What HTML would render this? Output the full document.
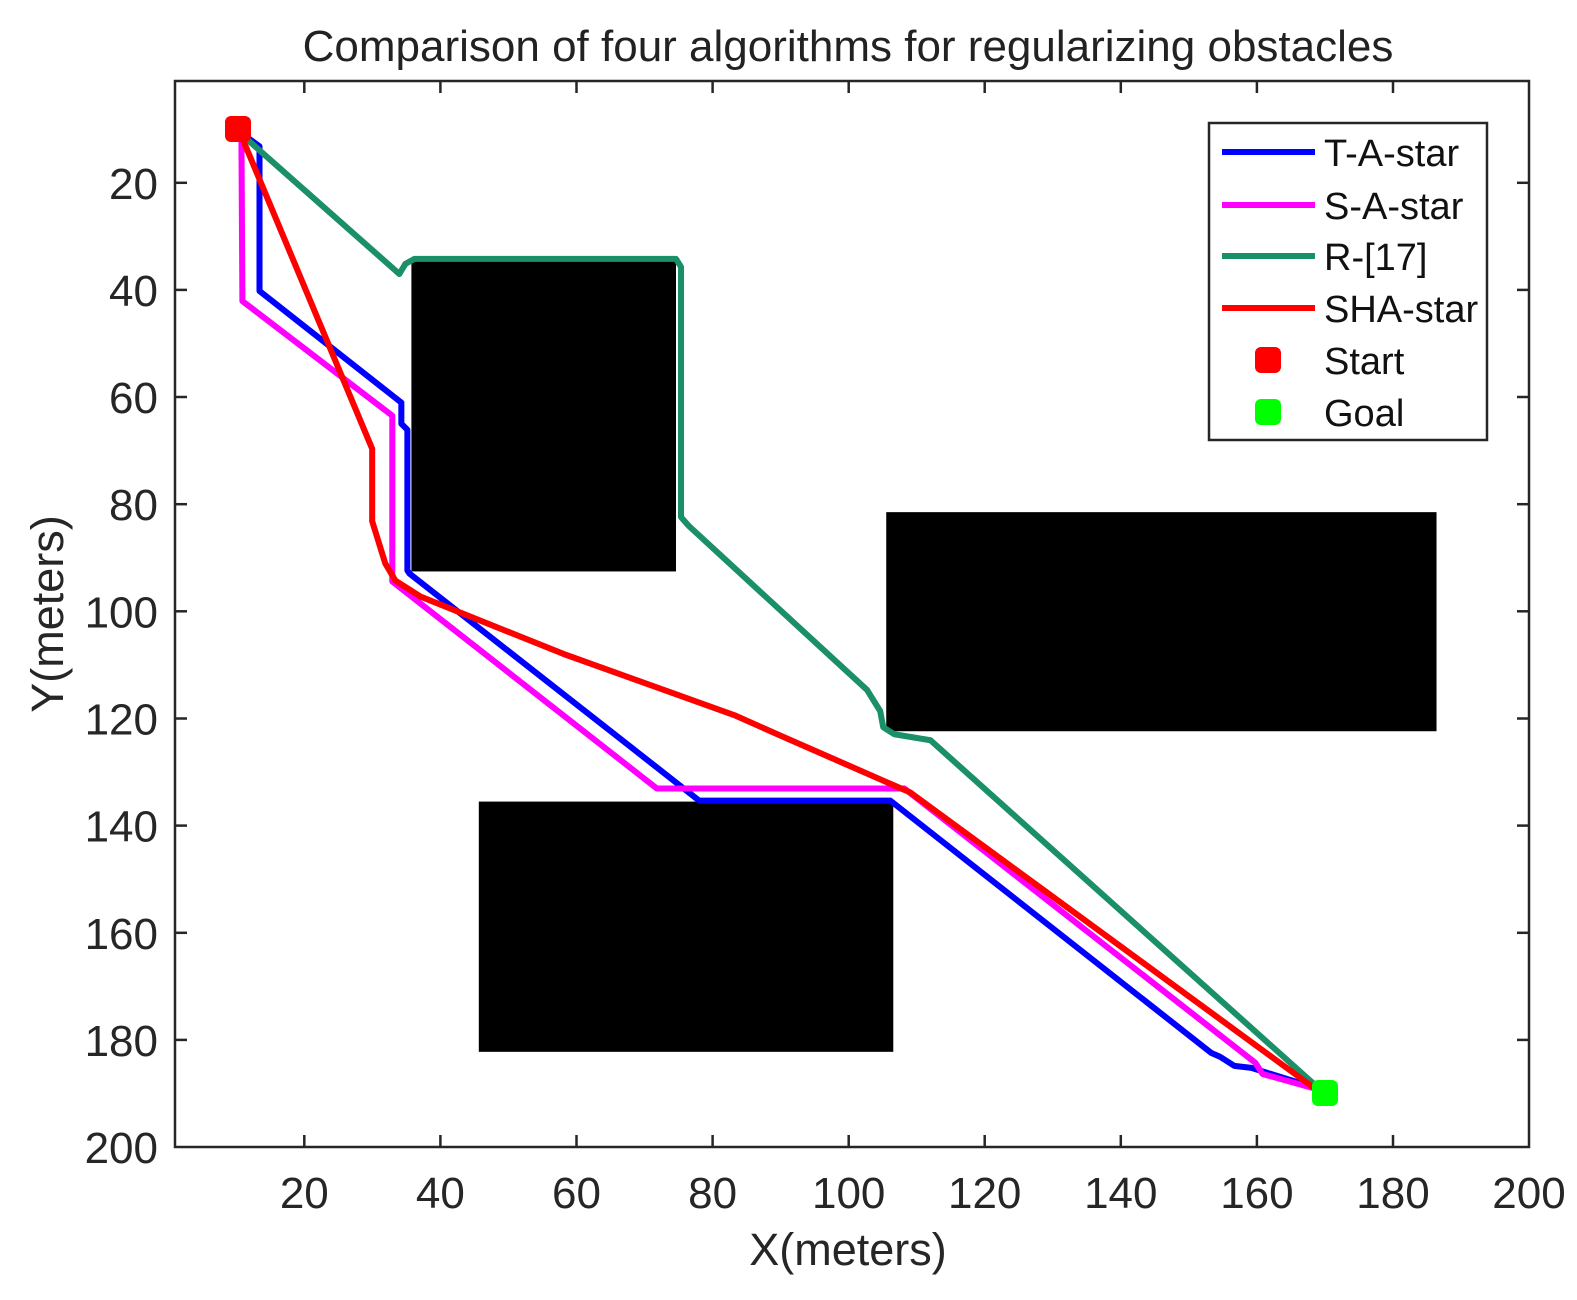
<!DOCTYPE html>
<html><head><meta charset="utf-8"><style>
html,body{margin:0;padding:0;background:#fff;}
svg{display:block;font-family:"Liberation Sans",sans-serif;}
</style></head><body>
<svg width="1577" height="1300" viewBox="0 0 1577 1300" xmlns="http://www.w3.org/2000/svg">
<rect width="1577" height="1300" fill="#fff"/>
<text x="848" y="61" font-size="44" text-anchor="middle" fill="#222">Comparison of four algorithms for regularizing obstacles</text>
<g transform="translate(175,81) scale(1.006,1.005) translate(-174,-80)" fill="none" stroke-linejoin="round" stroke-linecap="round">
<rect x="409" y="259" width="263" height="309" fill="#000" stroke="none"/>
<rect x="881" y="509" width="547" height="218" fill="#000" stroke="none"/>
<rect x="476" y="797" width="412" height="249" fill="#000" stroke="none"/>
<polyline stroke="#0000ff" stroke-width="6" points="236,129 258,145 258,289 399,400 399,421 405,427 405,567 407,570 695,796 885,796 1204,1047 1213,1051 1227,1060 1244,1062 1305,1081"/>
<polyline stroke="#ff00ff" stroke-width="6" points="240,130 241,299 390,413 390,578 653,784 899,784 1248,1057 1255,1068 1305,1082"/>
<polyline stroke="#1b9068" stroke-width="6" points="240,133 397,272 403,262 412,257 672,257 677,265 677,514 685,523 862,686 875,707 878,723 889,730 925,736 1305,1077"/>
<polyline stroke="#ff0000" stroke-width="6" points="238,130 370,446 370,518 383,560 393,577 418,593 560,650 730,711 775,731 905,788 1305,1081"/>
</g>
<rect x="225" y="116" width="26" height="26" rx="6" fill="#ff0000"/>
<rect x="1312" y="1080" width="26" height="26" rx="6" fill="#00ff00"/>
<rect x="175" y="81" width="1354" height="1066" fill="none" stroke="#262626" stroke-width="2.5"/>
<g stroke="#262626" stroke-width="2.5">
<line x1="304.3" y1="1147" x2="304.3" y2="1135"/><line x1="304.3" y1="81" x2="304.3" y2="93"/>
<line x1="440.4" y1="1147" x2="440.4" y2="1135"/><line x1="440.4" y1="81" x2="440.4" y2="93"/>
<line x1="576.5" y1="1147" x2="576.5" y2="1135"/><line x1="576.5" y1="81" x2="576.5" y2="93"/>
<line x1="712.6" y1="1147" x2="712.6" y2="1135"/><line x1="712.6" y1="81" x2="712.6" y2="93"/>
<line x1="848.7" y1="1147" x2="848.7" y2="1135"/><line x1="848.7" y1="81" x2="848.7" y2="93"/>
<line x1="984.7" y1="1147" x2="984.7" y2="1135"/><line x1="984.7" y1="81" x2="984.7" y2="93"/>
<line x1="1120.8" y1="1147" x2="1120.8" y2="1135"/><line x1="1120.8" y1="81" x2="1120.8" y2="93"/>
<line x1="1256.9" y1="1147" x2="1256.9" y2="1135"/><line x1="1256.9" y1="81" x2="1256.9" y2="93"/>
<line x1="1393" y1="1147" x2="1393" y2="1135"/><line x1="1393" y1="81" x2="1393" y2="93"/>
<line x1="175" y1="182.8" x2="187" y2="182.8"/><line x1="1529" y1="182.8" x2="1517" y2="182.8"/>
<line x1="175" y1="289.9" x2="187" y2="289.9"/><line x1="1529" y1="289.9" x2="1517" y2="289.9"/>
<line x1="175" y1="397" x2="187" y2="397"/><line x1="1529" y1="397" x2="1517" y2="397"/>
<line x1="175" y1="504.2" x2="187" y2="504.2"/><line x1="1529" y1="504.2" x2="1517" y2="504.2"/>
<line x1="175" y1="611.3" x2="187" y2="611.3"/><line x1="1529" y1="611.3" x2="1517" y2="611.3"/>
<line x1="175" y1="718.5" x2="187" y2="718.5"/><line x1="1529" y1="718.5" x2="1517" y2="718.5"/>
<line x1="175" y1="825.6" x2="187" y2="825.6"/><line x1="1529" y1="825.6" x2="1517" y2="825.6"/>
<line x1="175" y1="932.8" x2="187" y2="932.8"/><line x1="1529" y1="932.8" x2="1517" y2="932.8"/>
<line x1="175" y1="1039.9" x2="187" y2="1039.9"/><line x1="1529" y1="1039.9" x2="1517" y2="1039.9"/>
</g>
<g font-size="44" fill="#262626" text-anchor="middle">
<text x="304.3" y="1208">20</text><text x="440.4" y="1208">40</text><text x="576.5" y="1208">60</text>
<text x="712.6" y="1208">80</text><text x="848.7" y="1208">100</text><text x="984.7" y="1208">120</text>
<text x="1120.8" y="1208">140</text><text x="1256.9" y="1208">160</text><text x="1393" y="1208">180</text>
<text x="1529" y="1208">200</text>
</g>
<g font-size="44" fill="#262626" text-anchor="end">
<text x="158" y="198.8">20</text><text x="158" y="305.9">40</text><text x="158" y="413">60</text>
<text x="158" y="520.2">80</text><text x="158" y="627.3">100</text><text x="158" y="734.5">120</text>
<text x="158" y="841.6">140</text><text x="158" y="948.8">160</text><text x="158" y="1055.9">180</text>
<text x="158" y="1163">200</text>
</g>
<text x="848" y="1265" font-size="45" text-anchor="middle" fill="#262626">X(meters)</text>
<text transform="translate(63,614) rotate(-90)" font-size="45" text-anchor="middle" fill="#262626">Y(meters)</text>
<rect x="1209" y="123" width="278" height="317" fill="#fff" stroke="#262626" stroke-width="2.5"/>
<g stroke-width="6">
<line x1="1222" y1="152" x2="1315" y2="152" stroke="#0000ff"/>
<line x1="1222" y1="205" x2="1315" y2="205" stroke="#ff00ff"/>
<line x1="1222" y1="256" x2="1315" y2="256" stroke="#1b9068"/>
<line x1="1222" y1="308" x2="1315" y2="308" stroke="#ff0000"/>
</g>
<rect x="1255" y="347" width="26" height="26" rx="6" fill="#ff0000"/>
<rect x="1255" y="399" width="26" height="26" rx="6" fill="#00ff00"/>
<g font-size="38" fill="#111">
<text x="1324" y="166">T-A-star</text>
<text x="1324" y="219">S-A-star</text>
<text x="1324" y="270">R-[17]</text>
<text x="1324" y="322">SHA-star</text>
<text x="1324" y="374">Start</text>
<text x="1324" y="426">Goal</text>
</g>
</svg>
</body></html>
